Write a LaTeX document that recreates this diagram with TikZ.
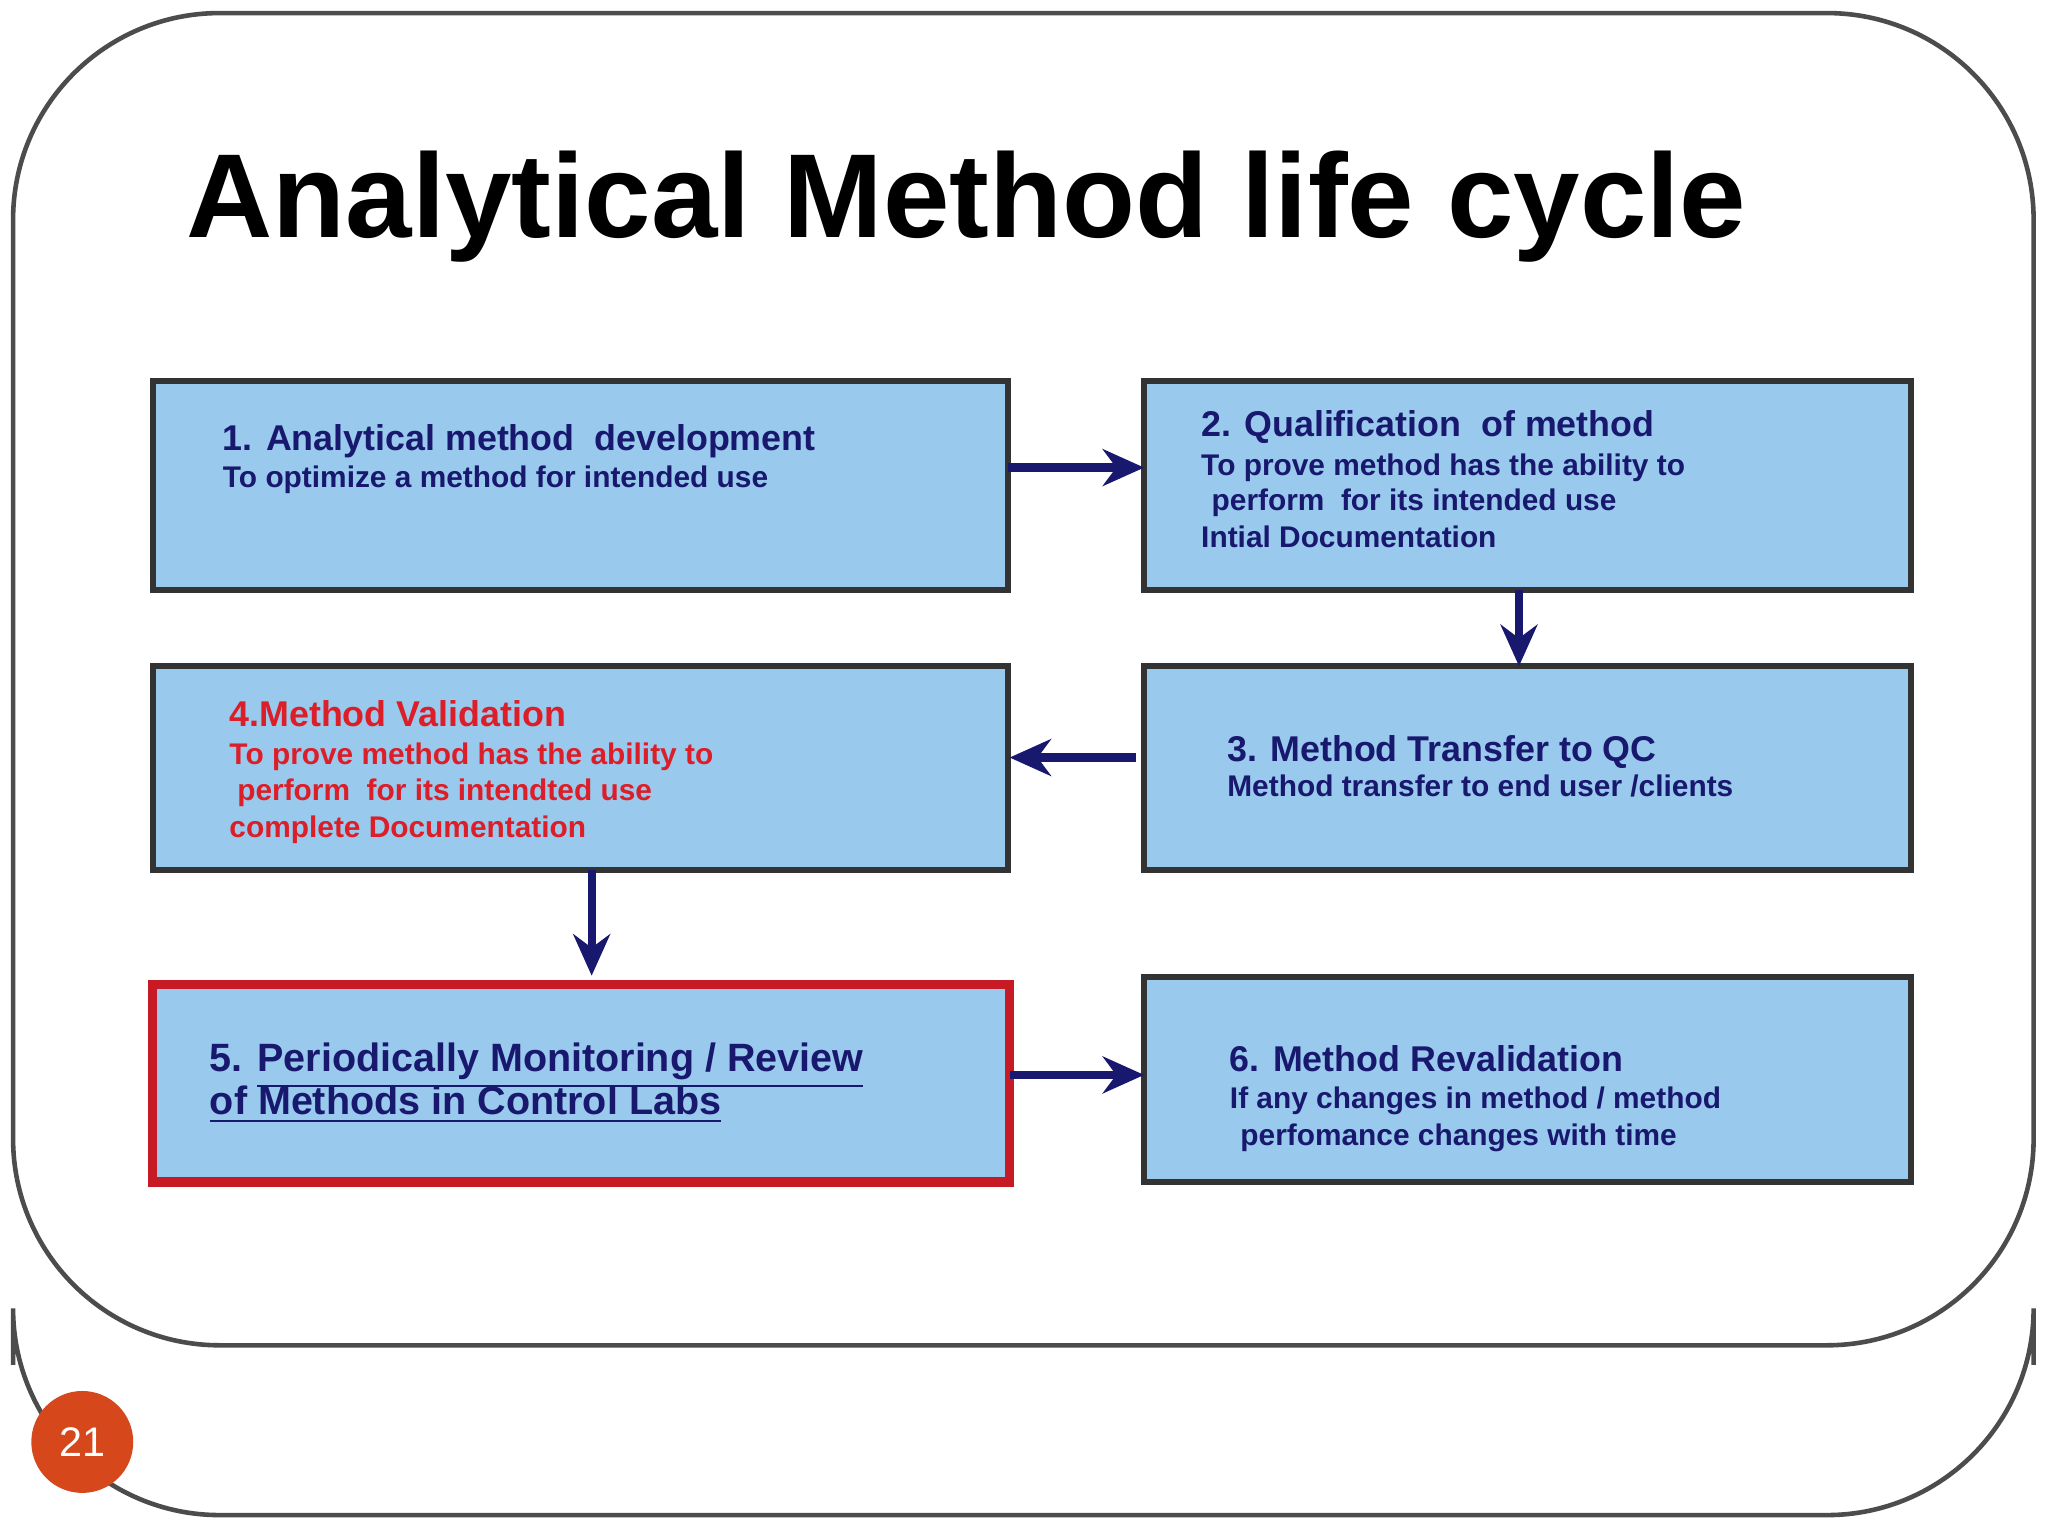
\documentclass[tikz,border=0pt]{standalone}
\usepackage{fontspec}
\setmainfont{Liberation Sans}
\usetikzlibrary{arrows.meta}
\definecolor{boxblue}{RGB}{153,201,236}
\definecolor{navy}{RGB}{24,24,110}
\definecolor{redtxt}{RGB}{220,30,40}
\definecolor{pagecirc}{RGB}{214,72,28}
\tikzset{
 stepbox/.style={draw=black!80,line width=1.3pt,fill=boxblue},
 hd/.style={anchor=base west,inner sep=0,text=navy,font=\bfseries\fontsize{7.8}{9}\selectfont},
 sb/.style={anchor=base west,inner sep=0,text=navy,font=\bfseries\fontsize{6.5}{8}\selectfont},
 flow/.style={draw=navy,line width=1.8pt,-{Stealth[length=9pt,width=8pt]}},
}
\begin{document}
\begin{tikzpicture}[x=0.01cm,y=-0.01cm]
\useasboundingbox (0,0) rectangle (1568,1176);
\fill[white] (0,0) rectangle (1568,1176);
\draw[black!70,line width=1pt,rounded corners=45] (10,10) rectangle (1557,1030);
\draw[black!70,line width=1pt,rounded corners=45] (10,1045) -- (10,1160) -- (1557,1160) -- (1557,1045);
\node[anchor=base,inner sep=0,font=\bfseries\fontsize{26}{30}\selectfont] (title) at (740,182) {Analytical Method life cycle};
% boxes
\draw[stepbox] (117,292) rectangle (772,452);
\draw[stepbox] (876,292) rectangle (1463,452);
\draw[stepbox] (117,510) rectangle (772,666);
\draw[stepbox] (876,510) rectangle (1463,666);
\draw[stepbox,draw=redtxt!90!black,line width=2pt] (117,754) rectangle (773,905);
\draw[stepbox] (876,748) rectangle (1463,905);
% text
\node[hd] (t1) at (170,345) {1. Analytical method\ \ development};
\node[sb] (s1) at (170,373) {To optimize a method for intended use};
\node[hd] (t2) at (919,334) {2. Qualification\ \ of method};
\node[sb] (s2a) at (919,364) {To prove method has the ability to};
\node[sb] (s2b) at (927,391) {perform\ \ for its intended use};
\node[sb] (s2c) at (919,419) {Intial Documentation};
\node[hd,text=redtxt] (t4) at (175,556) {4.Method Validation};
\node[sb,text=redtxt] (s4a) at (175,585) {To prove method has the ability to};
\node[sb,text=redtxt] (s4b) at (181,613) {perform\ \ for its intendted use};
\node[sb,text=redtxt] (s4c) at (175,641) {complete Documentation};
\node[hd] (t3) at (939,583) {3. Method Transfer to QC};
\node[sb] (s3) at (939,610) {Method transfer to end user /clients};
\node[hd,font=\bfseries\fontsize{8.6}{10}\selectfont] (t5a) at (160,820) {5. \underline{Periodically Monitoring / Review}};
\node[hd,font=\bfseries\fontsize{8.6}{10}\selectfont] (t5b) at (160,853) {\underline{of Methods in Control Labs}};
\node[hd] (t6) at (941,820) {6. Method Revalidation};
\node[sb] (s6a) at (941,849) {If any changes in method / method};
\node[sb] (s6b) at (949,877) {perfomance changes with time};
% arrows
\coordinate (a1s) at (772,358); \coordinate (a1e) at (876,358);
\coordinate (a2s) at (1163,452); \coordinate (a2e) at (1163,510);
\coordinate (a3s) at (870,580); \coordinate (a3e) at (773,580);
\coordinate (a4s) at (453,666); \coordinate (a4e) at (453,747);
\coordinate (a5s) at (773,823); \coordinate (a5e) at (876,823);
\draw[flow] (a1s) -- (a1e);
\draw[flow] (a2s) -- (a2e);
\draw[flow] (a3s) -- (a3e);
\draw[flow] (a4s) -- (a4e);
\draw[flow] (a5s) -- (a5e);
\node[circle,fill=pagecirc,inner sep=0,minimum size=0.78cm,text=white,font=\fontsize{9}{10}\selectfont] (pg) at (63,1104) {21};
\end{tikzpicture}
\end{document}
